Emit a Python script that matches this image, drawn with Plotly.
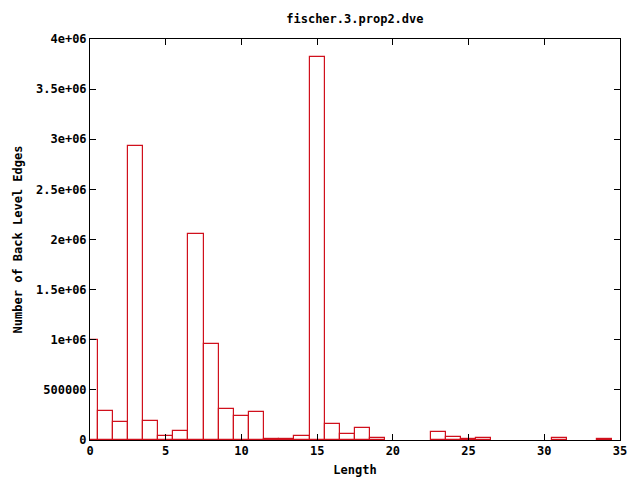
import plotly.graph_objects as go

lengths = list(range(0, 35))
edges = [
    996000, 289000, 176000, 2935000, 189000, 37000, 87000, 2050000, 956000, 309000,
    236000, 279000, 10000, 10000, 37000, 3820000, 159000, 60000, 116000, 17000,
    0, 0, 0, 77000, 27000, 7000, 17000, 0, 0, 0,
    0, 17000, 0, 0, 7000,
]
y_ticks = [0, 500000, 1000000, 1500000, 2000000, 2500000, 3000000, 3500000, 4000000]
y_labels = ["0", "500000", "1e+06", "1.5e+06", "2e+06", "2.5e+06", "3e+06", "3.5e+06", "4e+06"]
x_ticks = [0, 5, 10, 15, 20, 25, 30, 35]

FONT = dict(family="DejaVu Sans Mono", size=12, color="black", weight="bold")
RED = "#d0101c"

# empty lengths draw no box at all
bar_y = [v if v else None for v in edges]

fig = go.Figure(
    go.Bar(
        x=lengths,
        y=bar_y,
        width=1,
        marker=dict(color="rgba(255,255,255,0)", line=dict(color=RED, width=1.2)),
    )
)

axis_common = dict(
    showgrid=False,
    zeroline=False,
    showline=True,
    linecolor="black",
    linewidth=1,
    mirror="allticks",
    ticks="inside",
    ticklen=6,
    tickcolor="black",
    tickfont=FONT,
    automargin=False,
)

# the page adds an 8px body margin, so the margins are shifted to compensate
fig.update_layout(
    width=640,
    height=480,
    margin=dict(l=82, r=28, t=31, b=48),
    paper_bgcolor="white",
    plot_bgcolor="white",
    font=FONT,
    showlegend=False,
    bargap=0,
    title=dict(text="fischer.3.prop2.dve", x=0.542, xanchor="center", y=0.977, yanchor="middle", font=FONT),
    xaxis=dict(
        range=[0, 35],
        tickvals=x_ticks,
        title=dict(text="Length", font=FONT, standoff=8),
        **axis_common,
    ),
    yaxis=dict(
        range=[0, 4000000],
        tickvals=y_ticks,
        ticktext=y_labels,
        title=dict(text="Number of Back Level Edges", font=FONT, standoff=10),
        **axis_common,
    ),
)

fig.write_html("out.html")
